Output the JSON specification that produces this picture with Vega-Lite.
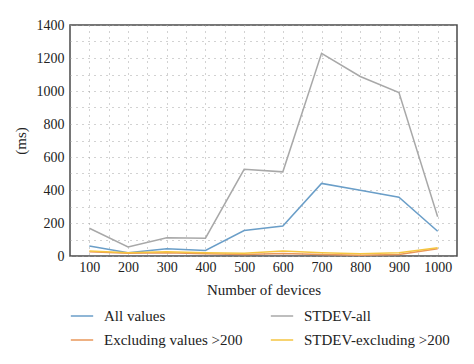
{
  "$schema": "https://vega.github.io/schema/vega-lite/v6.json",
  "width": 387,
  "height": 231,
  "autosize": {"type": "none"},
  "padding": {"left": 70, "top": 25, "right": 17, "bottom": 108},
  "background": "white",
  "config": {
    "font": "Liberation Serif",
    "view": {"stroke": "#4a4a4a", "strokeWidth": 1.5}
  },
  "data": {
    "values": [
      {"d": 100, "s": "All values", "v": 61},
      {"d": 200, "s": "All values", "v": 20},
      {"d": 300, "s": "All values", "v": 44},
      {"d": 400, "s": "All values", "v": 34},
      {"d": 500, "s": "All values", "v": 154},
      {"d": 600, "s": "All values", "v": 182},
      {"d": 700, "s": "All values", "v": 440},
      {"d": 800, "s": "All values", "v": 398},
      {"d": 900, "s": "All values", "v": 356},
      {"d": 1000, "s": "All values", "v": 150},
      {"d": 100, "s": "STDEV-all", "v": 168},
      {"d": 200, "s": "STDEV-all", "v": 55},
      {"d": 300, "s": "STDEV-all", "v": 110},
      {"d": 400, "s": "STDEV-all", "v": 108},
      {"d": 500, "s": "STDEV-all", "v": 525},
      {"d": 600, "s": "STDEV-all", "v": 510},
      {"d": 700, "s": "STDEV-all", "v": 1228},
      {"d": 800, "s": "STDEV-all", "v": 1088},
      {"d": 900, "s": "STDEV-all", "v": 990},
      {"d": 1000, "s": "STDEV-all", "v": 238},
      {"d": 100, "s": "Excluding values >200", "v": 25},
      {"d": 200, "s": "Excluding values >200", "v": 17},
      {"d": 300, "s": "Excluding values >200", "v": 19},
      {"d": 400, "s": "Excluding values >200", "v": 14},
      {"d": 500, "s": "Excluding values >200", "v": 9},
      {"d": 600, "s": "Excluding values >200", "v": 15},
      {"d": 700, "s": "Excluding values >200", "v": 9},
      {"d": 800, "s": "Excluding values >200", "v": 4},
      {"d": 900, "s": "Excluding values >200", "v": 9},
      {"d": 1000, "s": "Excluding values >200", "v": 44},
      {"d": 100, "s": "STDEV-excluding >200", "v": 30},
      {"d": 200, "s": "STDEV-excluding >200", "v": 20},
      {"d": 300, "s": "STDEV-excluding >200", "v": 26},
      {"d": 400, "s": "STDEV-excluding >200", "v": 20},
      {"d": 500, "s": "STDEV-excluding >200", "v": 16},
      {"d": 600, "s": "STDEV-excluding >200", "v": 30},
      {"d": 700, "s": "STDEV-excluding >200", "v": 20},
      {"d": 800, "s": "STDEV-excluding >200", "v": 14},
      {"d": 900, "s": "STDEV-excluding >200", "v": 20},
      {"d": 1000, "s": "STDEV-excluding >200", "v": 50}
    ]
  },
  "mark": {"type": "line", "strokeWidth": 1.5},
  "encoding": {
    "x": {
      "field": "d",
      "type": "quantitative",
      "scale": {"domain": [50, 1050], "nice": false, "zero": false},
      "axis": {
        "title": "Number of devices",
        "titleFont": "Liberation Serif",
        "titleFontSize": 15,
        "titleFontWeight": "normal",
        "titleColor": "#222222",
        "titlePadding": 8,
        "values": [100, 150, 200, 250, 300, 350, 400, 450, 500, 550, 600, 650, 700, 750, 800, 850, 900, 950, 1000],
        "labelExpr": "datum.value % 100 == 0 ? datum.label : ''",
        "format": "d",
        "labelFont": "Liberation Serif",
        "labelFontSize": 14,
        "labelColor": "#222222",
        "labelPadding": 4,
        "ticks": false,
        "domain": false,
        "grid": true,
        "gridDash": [1, 5],
        "gridColor": "#a5a5a5",
        "gridWidth": 1
      }
    },
    "y": {
      "field": "v",
      "type": "quantitative",
      "scale": {"domain": [0, 1400], "nice": false},
      "axis": {
        "title": "(ms)",
        "titleFont": "Liberation Serif",
        "titleFontSize": 15,
        "titleFontWeight": "normal",
        "titleColor": "#222222",
        "titlePadding": 8,
        "values": [0, 100, 200, 300, 400, 500, 600, 700, 800, 900, 1000, 1100, 1200, 1300, 1400],
        "labelExpr": "datum.value % 200 == 0 ? datum.label : ''",
        "format": "d",
        "labelFont": "Liberation Serif",
        "labelFontSize": 14,
        "labelColor": "#222222",
        "labelPadding": 6,
        "ticks": false,
        "domain": false,
        "grid": true,
        "gridDash": [1, 5],
        "gridColor": "#a5a5a5",
        "gridWidth": 1
      }
    },
    "color": {
      "field": "s",
      "type": "nominal",
      "sort": ["All values", "STDEV-all", "Excluding values >200", "STDEV-excluding >200"],
      "scale": {
        "domain": ["All values", "STDEV-all", "Excluding values >200", "STDEV-excluding >200"],
        "range": ["#6a9ec8", "#a8a8a8", "#e9975a", "#f5c540"]
      },
      "legend": {
        "title": null,
        "orient": "none",
        "legendX": 0,
        "legendY": 279,
        "direction": "horizontal",
        "columns": 2,
        "columnPadding": 24,
        "rowPadding": 4,
        "symbolType": "stroke",
        "symbolSize": 500,
        "symbolStrokeWidth": 1.5,
        "labelFont": "Liberation Serif",
        "labelFontSize": 15,
        "labelColor": "#222222",
        "labelOffset": 10,
        "labelLimit": 300
      }
    }
  }
}
